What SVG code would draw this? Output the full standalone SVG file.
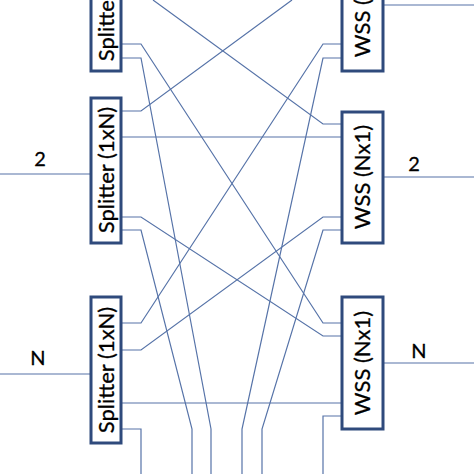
<svg xmlns="http://www.w3.org/2000/svg" width="474" height="474" viewBox="0 0 474 474">
<style>
.box{fill:#fff;stroke:#2f4a7c;stroke-width:3}
.lbl{font-family:Lato,"Open Sans","Liberation Sans",sans-serif;font-size:22px;fill:#000;stroke:#000;stroke-width:0.3;text-anchor:middle}
.num{font-family:Lato,"Open Sans","Liberation Sans",sans-serif;font-size:20px;fill:#000;stroke:#000;stroke-width:0.3;text-anchor:middle}
.c{fill:none;stroke:#5673a8;stroke-width:1.2}
</style>
<rect width="474" height="474" fill="#fff"/>
<g id="connectors">
<path class="c" d="M0 174H91"/>
<path class="c" d="M0 374H91"/>
<path class="c" d="M383 5H474"/>
<path class="c" d="M383 177H474"/>
<path class="c" d="M383 363H474"/>
<path class="c" d="M153 0L323 124H342"/>
<path class="c" d="M292 0L141 111H121"/>
<path class="c" d="M121 44H141L323 323H342"/>
<path class="c" d="M121 58H141L211 429V474"/>
<path class="c" d="M121 137H342"/>
<path class="c" d="M121 217H141L323 336H342"/>
<path class="c" d="M121 230H141L192 429V474"/>
<path class="c" d="M121 323H141L323 44H342"/>
<path class="c" d="M121 350H141L323 217H342"/>
<path class="c" d="M121 403H342"/>
<path class="c" d="M121 429H141V474"/>
<path class="c" d="M342 58H323L242 429V474"/>
<path class="c" d="M342 230H323L262 429V474"/>
<path class="c" d="M342 416H323V474"/>
</g>
<g id="splitter1"><rect class="box" x="91" y="-75" width="30" height="146"/><text class="lbl" transform="translate(114 -2) rotate(-90)">Splitter (1xN)</text></g>
<g id="splitter2"><rect class="box" x="91" y="98" width="30" height="145"/><text class="lbl" transform="translate(114 170) rotate(-90)">Splitter (1xN)</text></g>
<g id="splitter3"><rect class="box" x="91" y="297" width="30" height="146"/><text class="lbl" transform="translate(114 370) rotate(-90)">Splitter (1xN)</text></g>
<g id="wss1"><rect class="box" x="342" y="-61" width="41" height="132"/><text class="lbl" transform="translate(370 5) rotate(-90)">WSS (Nx1)</text></g>
<g id="wss2"><rect class="box" x="342" y="112" width="41" height="131"/><text class="lbl" transform="translate(370 177) rotate(-90)">WSS (Nx1)</text></g>
<g id="wss3"><rect class="box" x="342" y="297" width="41" height="132"/><text class="lbl" transform="translate(370 363) rotate(-90)">WSS (Nx1)</text></g>
<g id="labels">
<text class="num" x="40" y="166">2</text>
<text class="num" x="38" y="365">N</text>
<text class="num" x="414" y="171">2</text>
<text class="num" x="419" y="358">N</text>
</g>
</svg>
